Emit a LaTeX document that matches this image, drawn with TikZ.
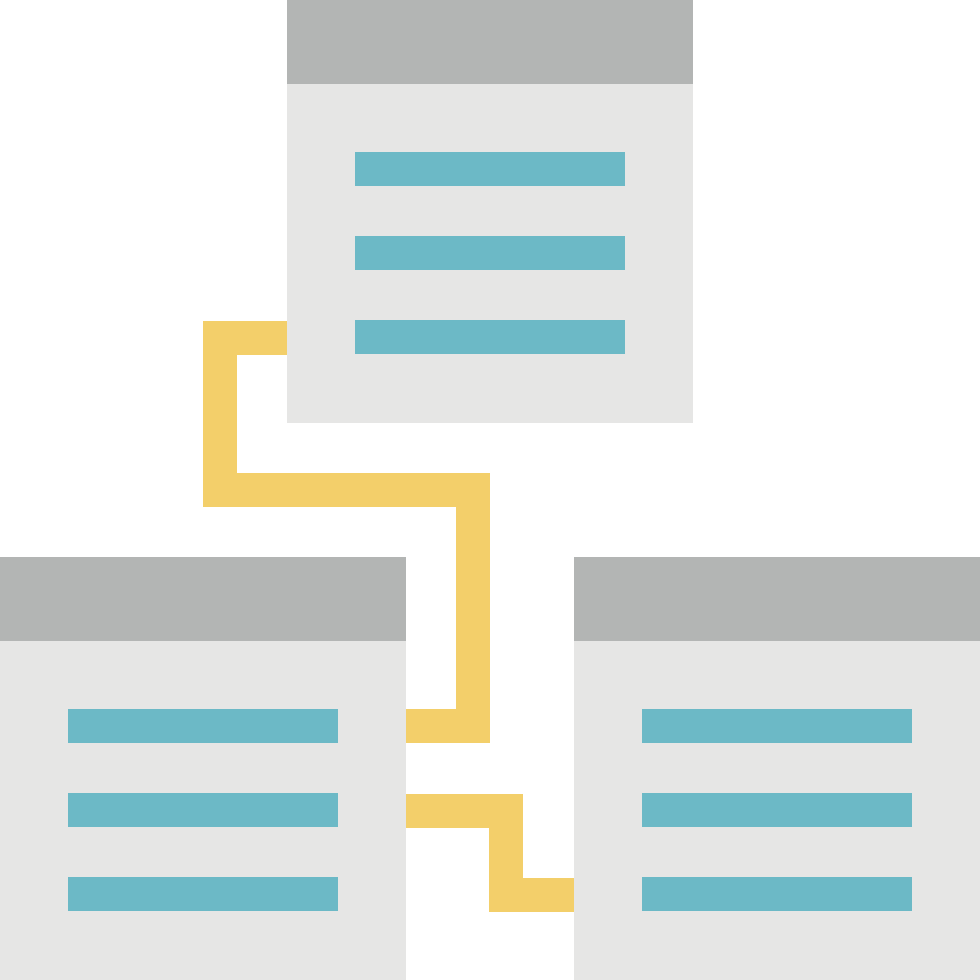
\documentclass[tikz,border=0pt]{standalone}
\definecolor{bargray}{HTML}{B3B5B4}
\definecolor{pagegray}{HTML}{E6E6E5}
\definecolor{rowteal}{HTML}{6CB9C6}
\definecolor{linkyellow}{HTML}{F3CF6A}
\begin{document}
\begin{tikzpicture}[x=.1mm,y=-.1mm,
		link/.style={draw=linkyellow,line width=3.4mm,line join=miter,line cap=butt},
		header/.style={fill=bargray},
		page/.style={fill=pagegray},
		row/.style={fill=rowteal}]
		\useasboundingbox[fill=white](0,0)rectangle(980,980);
		% yellow links
		\coordinate(a1)at(287,338);\coordinate(a2)at(405,726);
		\coordinate(b1)at(405,811);\coordinate(b2)at(574,895);
		\draw[link](a1)--(220,338)--(220,490)--(473,490)--(473,726)--(a2);
		\draw[link](b1)--(506,811)--(506,895)--(b2);
		% three windows
		\foreach \wx/\wy in {287/0,0/557,574/557}{
			\fill[page](\wx,\wy)rectangle++(406,423);
			\fill[header](\wx,\wy)rectangle++(406,84);
			\foreach \ry in {152,236,320}
				\fill[row]([shift={(68,\ry)}]\wx,\wy)rectangle++(270,34);
		}
	\end{tikzpicture}
\end{document}
